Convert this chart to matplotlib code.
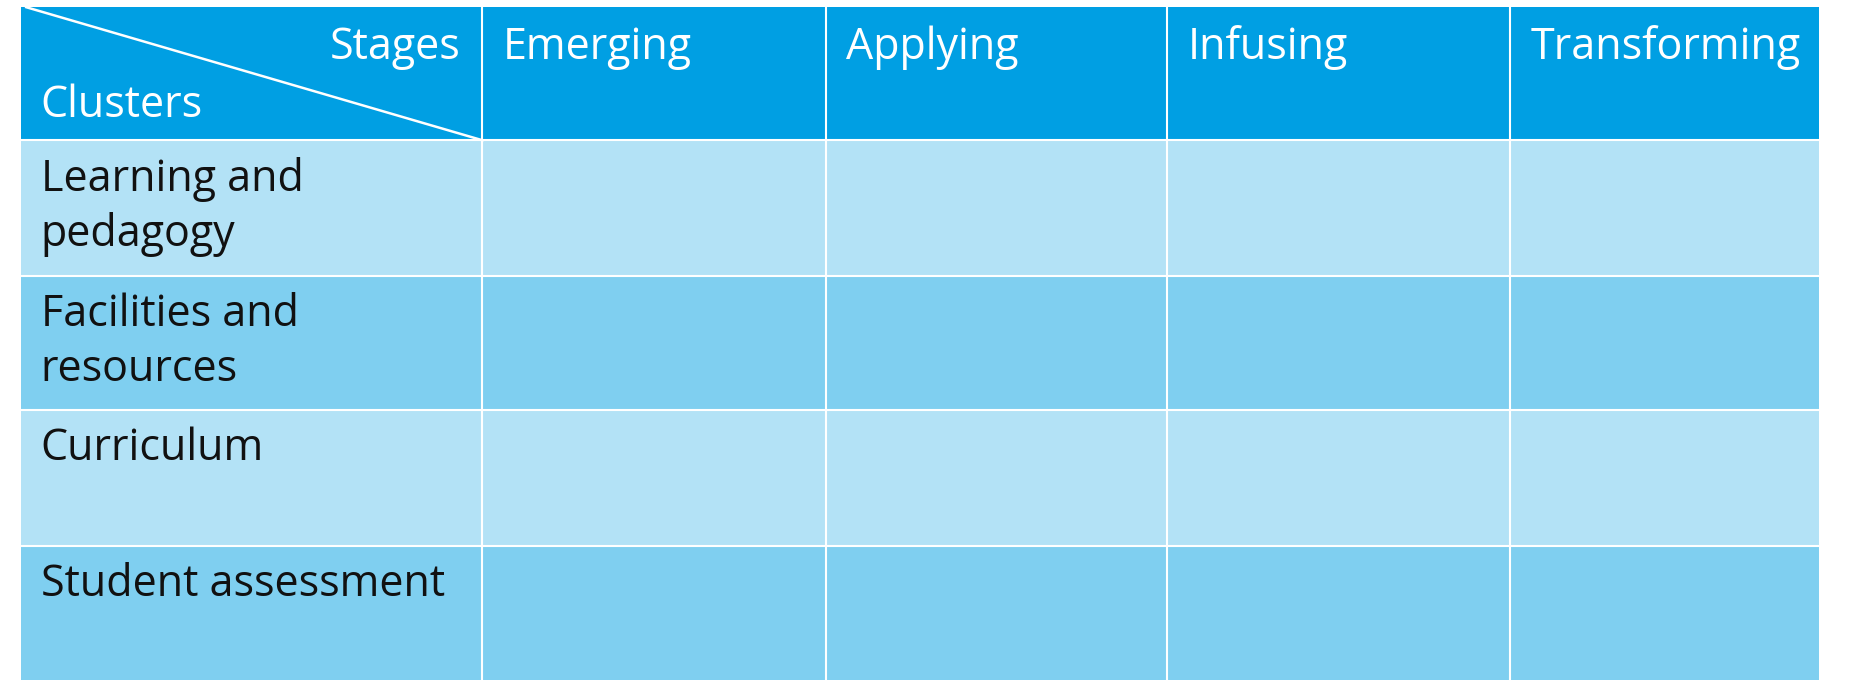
import matplotlib
matplotlib.use('Agg')
import matplotlib.pyplot as plt
from matplotlib.patches import Rectangle

plt.rcParams['font.family'] = ['Open Sans', 'DejaVu Sans']

stages = ['Emerging', 'Applying', 'Infusing', 'Transforming']
clusters = ['Learning and\npedagogy', 'Facilities and\nresources', 'Curriculum', 'Student assessment']
row_colors = ['#b3e2f6', '#7fcff0', '#b3e2f6', '#7fcff0']
header_color = '#009fe3'

# layout in reference-display pixel units
W, H = 1569, 573
col_edges = [18, 405, 693, 980, 1268, 1527]
row_edges = [6, 117, 230, 342, 455, 567]

fig = plt.figure(figsize=(18.69, 6.87), dpi=100)
ax = fig.add_axes([0, 0, 1, 1])
ax.set_xlim(0, W)
ax.set_ylim(H, 0)
ax.axis('off')

x0, x1 = col_edges[0], col_edges[-1]
# header
ax.add_patch(Rectangle((x0, row_edges[0]), x1 - x0, row_edges[1] - row_edges[0], color=header_color, lw=0))
for i, c in enumerate(row_colors):
    ax.add_patch(Rectangle((x0, row_edges[i + 1]), x1 - x0, row_edges[i + 2] - row_edges[i + 1], color=c, lw=0))

# white separators
for xe in col_edges[1:-1]:
    ax.plot([xe, xe], [row_edges[0], row_edges[-1]], color='white', lw=1.5)
for ye in row_edges[1:-1]:
    ax.plot([x0, x1], [ye, ye], color='white', lw=1.5)
# diagonal
ax.plot([x0 + 4, col_edges[1]], [row_edges[0], row_edges[1]], color='white', lw=1.8)

fs = 31
ax.text(col_edges[1] - 18, 40, 'Stages', color='white', fontsize=fs, ha='right', va='center')
ax.text(x0 + 16, 88, 'Clusters', color='white', fontsize=fs, ha='left', va='center')
for i, s in enumerate(stages):
    ax.text(col_edges[i + 1] + 17, 40, s, color='white', fontsize=fs, ha='left', va='center')
for i, c in enumerate(clusters):
    ax.text(x0 + 16, row_edges[i + 1] + 14, c, color='#111111', fontsize=fs, ha='left', va='top',
            linespacing=1.3)

fig.savefig('out.png', dpi=100)
